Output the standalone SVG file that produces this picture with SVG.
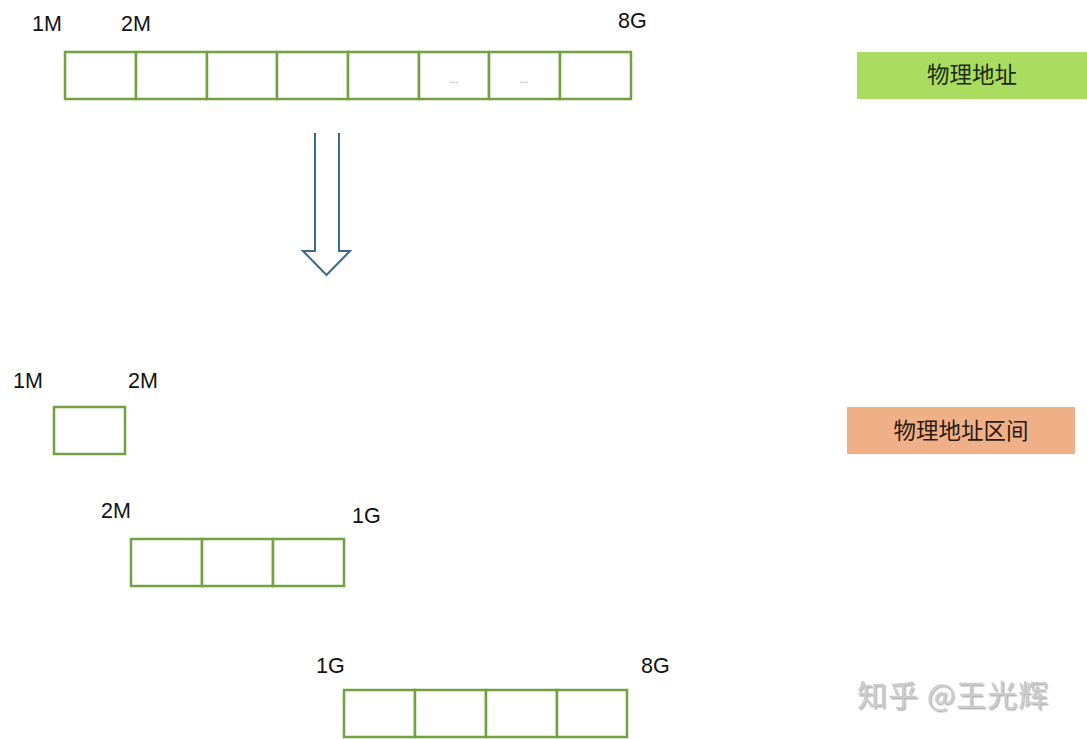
<svg xmlns="http://www.w3.org/2000/svg" width="1087" height="739" viewBox="0 0 1087 739">
<style>
.cell{fill:#ffffff;stroke:#70A33F;stroke-width:2.5}
.lbl{font-family:"Liberation Sans",Arial,sans-serif;font-size:21.5px;fill:#111111}
.cn{font-family:"Noto Sans CJK SC","Liberation Sans",sans-serif;font-size:22.5px;fill:#1c2a10;text-anchor:middle}
.dots{font-family:"Liberation Sans",Arial,sans-serif;font-size:11px;fill:#999999;text-anchor:middle}
.wm{font-family:"Noto Sans CJK SC",sans-serif;font-size:30px;fill:#cccccc;letter-spacing:1px}
</style>
<defs>
<filter id="emboss" x="-5%" y="-20%" width="110%" height="140%">
<feDropShadow dx="1.5" dy="1.5" stdDeviation="0.6" flood-color="#888888" flood-opacity="0.6"/>
</filter>
</defs>
<rect width="1087" height="739" fill="#ffffff"/>
<g id="top-row">
<rect class="cell" x="65" y="52" width="71" height="47"/>
<rect class="cell" x="136" y="52" width="71" height="47"/>
<rect class="cell" x="207" y="52" width="70" height="47"/>
<rect class="cell" x="277" y="52" width="71" height="47"/>
<rect class="cell" x="348" y="52" width="71" height="47"/>
<rect class="cell" x="419" y="52" width="70" height="47"/>
<rect class="cell" x="489" y="52" width="71" height="47"/>
<rect class="cell" x="560" y="52" width="71" height="47"/>
<text class="dots" x="454" y="83">...</text>
<text class="dots" x="524" y="83">...</text>
<text class="lbl" x="32" y="31">1M</text>
<text class="lbl" x="121" y="31">2M</text>
<text class="lbl" x="618" y="28">8G</text>
</g>
<g id="legend-physical">
<rect x="857" y="52" width="230" height="47" fill="#A9DC5F"/>
<text class="cn" x="972" y="83">物理地址</text>
</g>
<g id="legend-range">
<rect x="847" y="407" width="228" height="47" fill="#F0B087"/>
<text class="cn" x="961" y="439" style="fill:#2a1a10">物理地址区间</text>
</g>
<g id="connectors">
<path d="M315,133 V251 H303 L326.5,275 L350,251 H339 V133" fill="none" stroke="#3A6A8E" stroke-width="2"/>
</g>
<g id="range-1">
<rect class="cell" x="54" y="407" width="71" height="47"/>
<text class="lbl" x="13" y="388">1M</text>
<text class="lbl" x="128" y="388">2M</text>
</g>
<g id="range-2">
<rect class="cell" x="131" y="539" width="71" height="47"/>
<rect class="cell" x="202" y="539" width="71" height="47"/>
<rect class="cell" x="273" y="539" width="71" height="47"/>
<text class="lbl" x="101" y="518">2M</text>
<text class="lbl" x="352" y="523">1G</text>
</g>
<g id="range-3">
<rect class="cell" x="344" y="690" width="71" height="47"/>
<rect class="cell" x="415" y="690" width="71" height="47"/>
<rect class="cell" x="486" y="690" width="71" height="47"/>
<rect class="cell" x="557" y="690" width="70" height="47"/>
<text class="lbl" x="316" y="673">1G</text>
<text class="lbl" x="641" y="673">8G</text>
</g>
<g id="watermark">
<text class="wm" x="857" y="706" filter="url(#emboss)">知乎 @王光辉</text>
</g>
</svg>
